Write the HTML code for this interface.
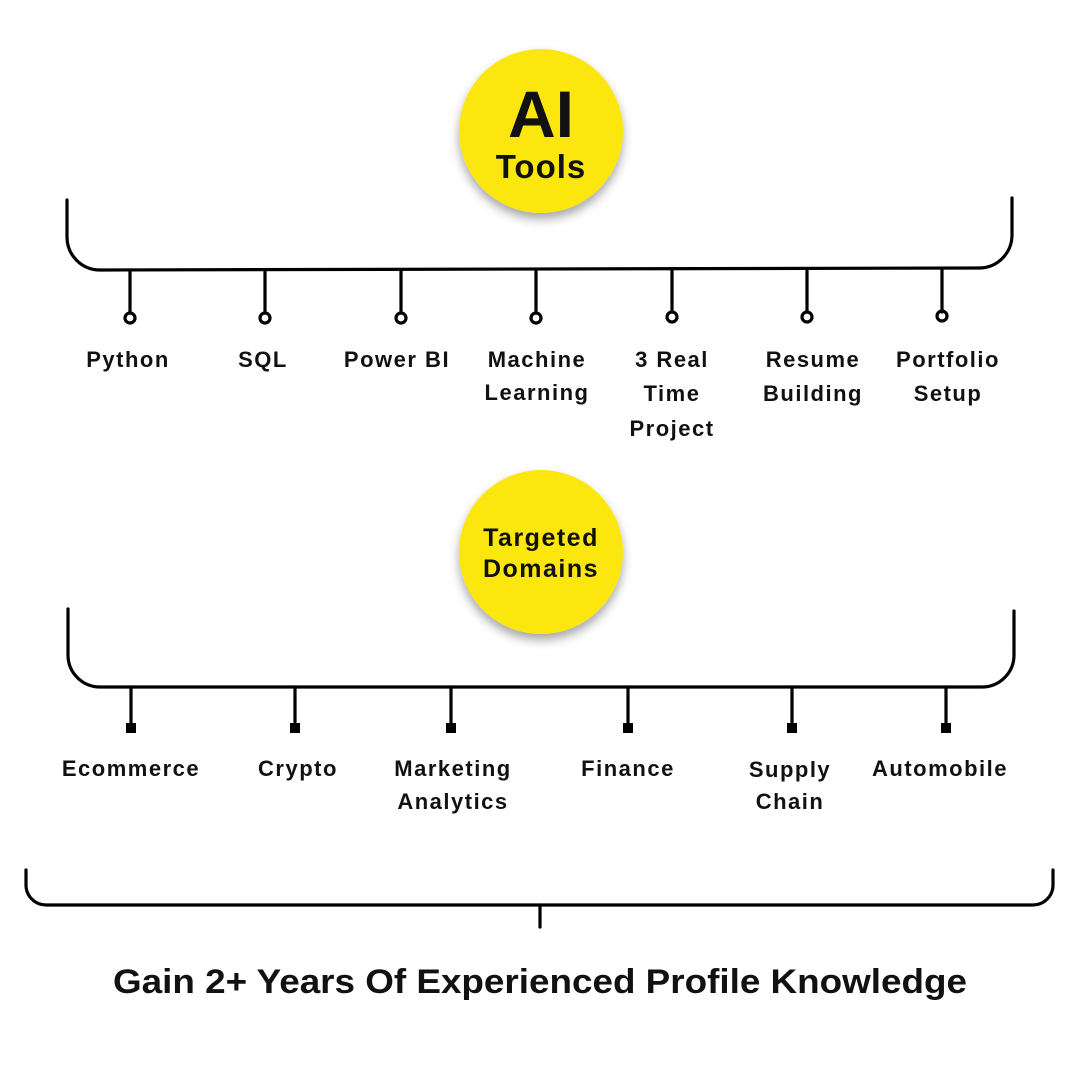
<!DOCTYPE html>
<html><head><meta charset="utf-8"><style>
html,body{margin:0;padding:0;background:#fff;}
svg{display:block;}
text{font-family:"Liberation Sans",sans-serif;font-weight:bold;fill:#111;text-anchor:middle;}
</style></head><body>
<svg width="1080" height="1080" viewBox="0 0 1080 1080" xmlns="http://www.w3.org/2000/svg">
<defs>
<filter id="sh" x="-30%" y="-30%" width="160%" height="160%">
<feDropShadow dx="0" dy="6" stdDeviation="5" flood-color="#000" flood-opacity="0.35"/>
</filter>
</defs>
<g fill="none" stroke="#000" stroke-width="3.2" stroke-linecap="round">
<path d="M67 200 V237 A33 33 0 0 0 100 270 L979 268 A33 33 0 0 0 1012 235 V198"/>
<path d="M130 270 V312 M265 270 V312 M401 270 V312 M536 270 V312 M672 269 V312 M807 269 V312 M942 269 V312"/>
<circle cx="130" cy="318" r="5"/><circle cx="265" cy="318" r="5"/><circle cx="401" cy="318" r="5"/><circle cx="536" cy="318" r="5"/><circle cx="672" cy="317" r="5"/><circle cx="807" cy="317" r="5"/><circle cx="942" cy="316" r="5"/>
<path d="M68 609 V655 A32 32 0 0 0 100 687 L982 687 A32 32 0 0 0 1014 655 V611"/>
<path d="M131 687 V722 M295 687 V722 M451 687 V722 M628 687 V722 M792 687 V722 M946 687 V722"/>
<path d="M26 870 V885 A20 20 0 0 0 46 905 L1033 905 A20 20 0 0 0 1053 885 V870"/>
<path d="M540 905 V927"/>
</g>
<g fill="#000">
<rect x="126" y="723" width="10" height="10"/><rect x="290" y="723" width="10" height="10"/><rect x="446" y="723" width="10" height="10"/><rect x="623" y="723" width="10" height="10"/><rect x="787" y="723" width="10" height="10"/><rect x="941" y="723" width="10" height="10"/>
</g>
<circle cx="541" cy="131" r="82" fill="#fbe60a" filter="url(#sh)"/>
<circle cx="541" cy="552" r="82" fill="#fbe60a" filter="url(#sh)"/>
<text x="541" y="137" style="font-size:66px">AI</text>
<text x="541" y="178" style="font-size:33px;letter-spacing:1px">Tools</text>
<text x="541" y="546" style="font-size:25px;letter-spacing:1.5px">Targeted</text>
<text x="541" y="577" style="font-size:25px;letter-spacing:1.5px">Domains</text>
<g style="font-size:22px;letter-spacing:1.5px">
<text x="128" y="367">Python</text>
<text x="263" y="367">SQL</text>
<text x="397" y="367">Power BI</text>
<text x="537" y="367">Machine</text><text x="537" y="400">Learning</text>
<text x="672" y="367">3 Real</text><text x="672" y="401">Time</text><text x="672" y="436">Project</text>
<text x="813" y="367">Resume</text><text x="813" y="401">Building</text>
<text x="948" y="367">Portfolio</text><text x="948" y="401">Setup</text>
<text x="131" y="776">Ecommerce</text>
<text x="298" y="776">Crypto</text>
<text x="453" y="776">Marketing</text><text x="453" y="809">Analytics</text>
<text x="628" y="776">Finance</text>
<text x="790" y="777">Supply</text><text x="790" y="809">Chain</text>
<text x="940" y="776">Automobile</text>
</g>
<text x="540" y="993" textLength="854" lengthAdjust="spacingAndGlyphs" style="font-size:34px">Gain 2+ Years Of Experienced Profile Knowledge</text>
</svg>
</body></html>
